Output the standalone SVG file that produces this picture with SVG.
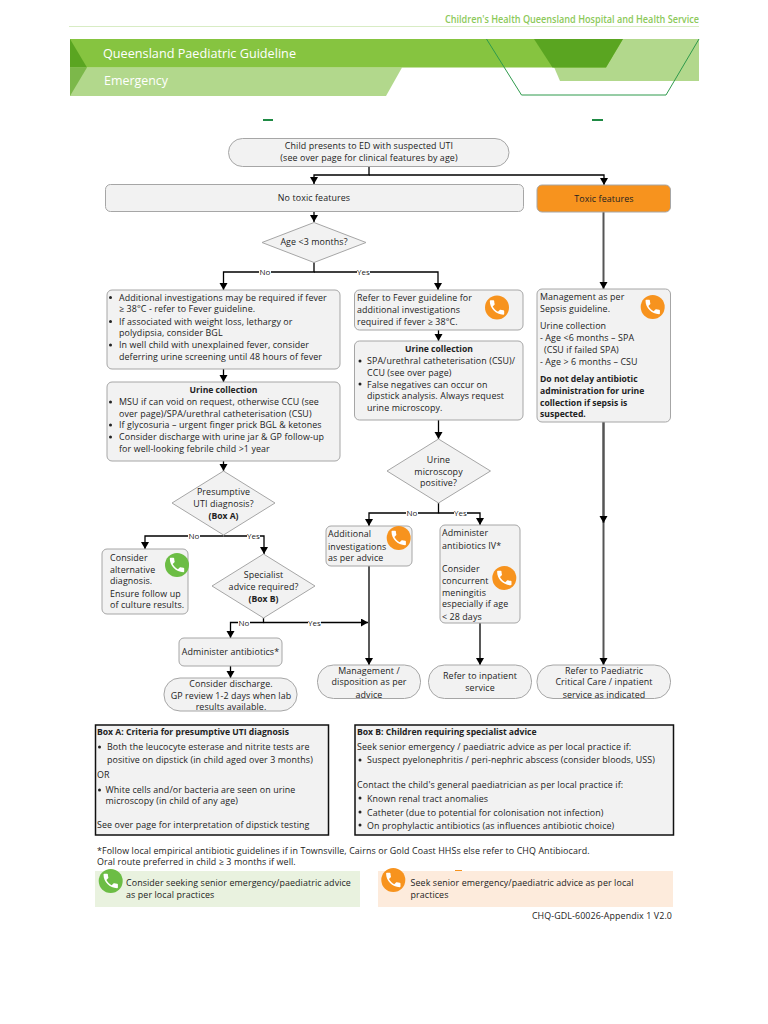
<svg xmlns="http://www.w3.org/2000/svg" width="768" height="1024" viewBox="0 0 768 1024">
<style>
text{font-family:"Open Sans","Noto Sans","Liberation Sans",sans-serif;font-size:8.9px;letter-spacing:.1px;fill:#222}
.c{text-anchor:middle}
.b{font-weight:700;font-size:8.6px;letter-spacing:0}
.n{fill:#f2f2f2;stroke:#a6a6a6;stroke-width:1}
.k{fill:#f2f2f2;stroke:#111;stroke-width:1.5}
.l{fill:none;stroke:#000;stroke-width:1.3}
.g{fill:none;stroke:#555;stroke-width:2}
.lb{fill:#fff}
.s{font-size:8px;letter-spacing:0}
.d{fill:#222}
</style>
<defs>
<marker id="a" markerUnits="userSpaceOnUse" markerWidth="9" markerHeight="9" refX="7" refY="4" orient="auto"><path d="M0 0L7 4L0 8z" fill="#000"/></marker>
<g id="ph"><path fill="#fff" d="M6.62 10.79c1.44 2.83 3.76 5.14 6.59 6.59l2.2-2.2c.27-.27.67-.36 1.02-.24 1.12.37 2.33.57 3.57.57.55 0 1 .45 1 1V20c0 .55-.45 1-1 1-9.39 0-17-7.61-17-17 0-.55.45-1 1-1h3.5c.55 0 1 .45 1 1 0 1.25.2 2.45.57 3.57.11.35.03.74-.25 1.02l-2.2 2.2z" transform="translate(-9.6 -9.6) scale(.8)"/></g>
<g id="po"><circle r="12" fill="#f7931e"/><use href="#ph"/></g>
<g id="pg"><circle r="12" fill="#6cbd45"/><use href="#ph"/></g>
</defs>

<g id="header">
<text x="699" y="23" text-anchor="end" textLength="254" lengthAdjust="spacingAndGlyphs" style="font-size:10px;letter-spacing:0;fill:#8cc95a;font-weight:600">Children's Health Queensland Hospital and Health Service</text>
<path d="M69 26.500H699" stroke="#d8ecc4" stroke-width="1" fill="none"/>
<path d="M623 39H699V81H560L542 39z" fill="#b2d88c"/>
<path d="M70 67.500H402L386 96H70z" fill="#b2d88c"/>
<path d="M70 39H623L606 67.500H70z" fill="#86c440"/>
<path d="M534 39H623L606 67.500H552.500z" fill="#5aa521"/>
<path d="M70 39L87 67.500H70z" fill="#5aa521"/>
<path d="M70 67.500H87L70 96z" fill="#7cb84a"/>
<path d="M486.500 39L521.500 95H666L699 39" fill="none" stroke="#2f9a4c" stroke-width="1"/>
<text x="103" y="58" textLength="193" lengthAdjust="spacingAndGlyphs" style="font-size:13px;letter-spacing:0;fill:#fff">Queensland Paediatric Guideline</text>
<text x="104" y="85" textLength="64" lengthAdjust="spacingAndGlyphs" style="font-size:13px;letter-spacing:0;fill:#fff">Emergency</text>
<path d="M263 120H273M592 120H603" stroke="#1f8a44" stroke-width="2" fill="none"/>
</g>

<g id="connectors">
<path class="l" d="M369 166.500V175H314V184" marker-end="url(#a)"/>
<path class="l" d="M369 175H604V185" marker-end="url(#a)"/>
<path class="l" d="M314 211V222" marker-end="url(#a)"/>
<path class="l" d="M314 262V272H223.500V290" marker-end="url(#a)"/>
<path class="l" d="M314 272H438V290" marker-end="url(#a)"/>
<path class="l" d="M223.500 369V382" marker-end="url(#a)"/>
<path class="l" d="M223.500 461V471" marker-end="url(#a)"/>
<path class="l" d="M438.500 330V341" marker-end="url(#a)"/>
<path class="l" d="M438.500 420V439" marker-end="url(#a)"/>
<path class="g" d="M603.500 212V289" marker-end="url(#a)"/>
<path class="g" d="M603.500 422V665" marker-end="url(#a)"/>
<path class="g" d="M603.500 422V523" marker-end="url(#a)"/>
<path class="l" d="M223.500 536H145V549" marker-end="url(#a)"/>
<path class="l" d="M223.500 536H264V554" marker-end="url(#a)"/>
<path class="l" d="M263.500 618V622.500H230.500V638" marker-end="url(#a)"/>
<path class="l" d="M263.500 622.500H368" marker-end="url(#a)"/>
<path class="l" d="M230.500 666V678" marker-end="url(#a)"/>
<path class="l" d="M438.500 503V513H369V526" marker-end="url(#a)"/>
<path class="l" d="M438.500 513H480V525" marker-end="url(#a)"/>
<path class="l" d="M369 566V665" marker-end="url(#a)"/>
<path class="l" d="M480 623V665" marker-end="url(#a)"/>
<g>
<rect class="lb" x="259" y="268" width="12" height="8"/><text class="c s" x="265" y="275">No</text>
<rect class="lb" x="357" y="268" width="13" height="8"/><text class="c s" x="363.500" y="275">Yes</text>
<rect class="lb" x="188" y="532" width="12" height="8"/><text class="c s" x="194" y="539">No</text>
<rect class="lb" x="247" y="532" width="13" height="8"/><text class="c s" x="253.500" y="539">Yes</text>
<rect class="lb" x="238" y="618.500" width="12" height="8"/><text class="c s" x="244" y="625.500">No</text>
<rect class="lb" x="308" y="618.500" width="13" height="8"/><text class="c s" x="314.500" y="625.500">Yes</text>
<rect class="lb" x="406" y="509" width="12" height="8"/><text class="c s" x="412" y="516">No</text>
<rect class="lb" x="454" y="509" width="13" height="8"/><text class="c s" x="460.500" y="516">Yes</text>
</g>
</g>

<g id="start"><rect class="n" x="228.500" y="138.500" width="280.500" height="28" rx="14"/>
<text class="c" x="369" y="149">Child presents to ED with suspected UTI</text>
<text class="c" x="369" y="161">(see over page for clinical features by age)</text></g>

<g id="no-toxic"><rect class="n" x="105.500" y="184.500" width="418" height="27" rx="5"/>
<text class="c" x="314" y="201">No toxic features</text></g>

<g id="toxic"><rect x="537" y="185" width="133.500" height="27" rx="5" fill="#f7931e" stroke="#a6a6a6"/>
<text class="c" x="604" y="202">Toxic features</text></g>

<g id="age"><path class="n" d="M314 222.500L366 242.500L314 262.500L262 242.500z"/>
<text class="c" x="314" y="245">Age &lt;3 months?</text></g>

<g id="box-additional"><rect class="n" x="107" y="290" width="233" height="79" rx="5"/>
<circle class="d" cx="110.500" cy="297.500" r="1.500"/><circle class="d" cx="110.500" cy="321.500" r="1.500"/><circle class="d" cx="110.500" cy="345" r="1.500"/>
<text x="119" y="300.500">Additional investigations may be required if fever</text>
<text x="119" y="312">≥ 38°C - refer to Fever guideline.</text>
<text x="119" y="324.500">If associated with weight loss, lethargy or</text>
<text x="119" y="336">polydipsia, consider BGL</text>
<text x="119" y="348">In well child with unexplained fever, consider</text>
<text x="119" y="360">deferring urine screening until 48 hours of fever</text></g>

<g id="box-urine-left"><rect class="n" x="107" y="382" width="233" height="79" rx="5"/>
<circle class="d" cx="110.500" cy="402" r="1.500"/><circle class="d" cx="110.500" cy="425" r="1.500"/><circle class="d" cx="110.500" cy="437" r="1.500"/>
<text class="c b" x="223.500" y="393">Urine collection</text>
<text x="119" y="405">MSU if can void on request, otherwise CCU (see</text>
<text x="119" y="416.500">over page)/SPA/urethral catheterisation (CSU)</text>
<text x="119" y="428">If glycosuria – urgent finger prick BGL &amp; ketones</text>
<text x="119" y="440">Consider discharge with urine jar &amp; GP follow-up</text>
<text x="119" y="452">for well-looking febrile child &gt;1 year</text></g>

<g id="box-refer"><rect class="n" x="354.500" y="290" width="168.500" height="40" rx="5"/>
<text x="357" y="301">Refer to Fever guideline for</text>
<text x="357" y="312.500">additional investigations</text>
<text x="357" y="325">required if fever ≥ 38°C.</text>
<use href="#po" x="497" y="307.500"/></g>

<g id="box-urine-mid"><rect class="n" x="354.500" y="341" width="168.500" height="79" rx="5"/>
<circle class="d" cx="360" cy="361" r="1.500"/><circle class="d" cx="360" cy="384" r="1.500"/>
<text class="c b" x="439" y="352">Urine collection</text>
<text x="367" y="364">SPA/urethral catheterisation (CSU)/</text>
<text x="367" y="375.500">CCU (see over page)</text>
<text x="367" y="387.500">False negatives can occur on</text>
<text x="367" y="399">dipstick analysis. Always request</text>
<text x="367" y="410.500">urine microscopy.</text></g>

<g id="box-sepsis"><rect class="n" x="537" y="289" width="133.500" height="133" rx="5"/>
<text x="540" y="300">Management as per</text>
<text x="540" y="311.500">Sepsis guideline.</text>
<text x="540" y="329">Urine collection</text>
<text x="540" y="341">- Age &lt;6 months – SPA</text>
<text x="544" y="353">(CSU if failed SPA)</text>
<text x="540" y="364.500">- Age &gt; 6 months – CSU</text>
<text class="b" x="540" y="382">Do not delay antibiotic</text>
<text class="b" x="540" y="394">administration for urine</text>
<text class="b" x="540" y="405.500">collection if sepsis is</text>
<text class="b" x="540" y="417">suspected.</text>
<use href="#po" x="652.700" y="307"/></g>

<g id="microscopy"><path class="n" d="M438.500 439L490.500 471L438.500 503L387 471z"/>
<text class="c" x="438.500" y="463">Urine</text>
<text class="c" x="438.500" y="474.500">microscopy</text>
<text class="c" x="438.500" y="485.500">positive?</text></g>

<g id="presumptive"><path class="n" d="M223.500 471L275 503L223.500 535L172 503z"/>
<text class="c" x="223.500" y="495">Presumptive</text>
<text class="c" x="223.500" y="506.500">UTI diagnosis?</text>
<text class="c b" x="223.500" y="518.500">(Box A)</text></g>

<g id="alt"><rect class="n" x="102" y="549" width="86" height="65" rx="5"/>
<text x="110" y="561">Consider</text>
<text x="110" y="572.500">alternative</text>
<text x="110" y="584">diagnosis.</text>
<text x="110" y="596.500">Ensure follow up</text>
<text x="110" y="608">of culture results.</text>
<use href="#pg" x="177" y="565"/></g>

<g id="specialist"><path class="n" d="M263.500 554L315 586L263.500 618L212 586z"/>
<text class="c" x="263.500" y="578">Specialist</text>
<text class="c" x="263.500" y="589.500">advice required?</text>
<text class="c b" x="263.500" y="602">(Box B)</text></g>

<g id="administer"><rect class="n" x="179" y="638" width="103" height="28" rx="5"/>
<text class="c" x="230.500" y="655">Administer antibiotics*</text></g>

<g id="discharge"><rect class="n" x="164" y="678" width="133" height="33" rx="16"/>
<text class="c" x="231" y="686.500">Consider discharge.</text>
<text class="c" x="231" y="698.500">GP review 1-2 days when lab</text>
<text class="c" x="231" y="710">results available.</text></g>

<g id="additional"><rect class="n" x="326" y="526" width="86" height="40" rx="5"/>
<text x="328" y="537">Additional</text>
<text x="328" y="549.500">investigations</text>
<text x="328" y="561">as per advice</text>
<use href="#po" x="398.700" y="538"/></g>

<g id="iv"><rect class="n" x="440" y="525" width="80" height="98" rx="5"/>
<text x="442" y="536">Administer</text>
<text x="442" y="548.500">antibiotics IV*</text>
<text x="442" y="571.500">Consider</text>
<text x="442" y="584">concurrent</text>
<text x="442" y="595.500">meningitis</text>
<text x="442" y="607">especially if age</text>
<text x="442" y="619.500">&lt; 28 days</text>
<use href="#po" x="504.300" y="578"/></g>

<g id="management"><rect class="n" x="317.500" y="665" width="103" height="33.500" rx="16"/>
<text class="c" x="369" y="673.500">Management /</text>
<text class="c" x="369" y="685">disposition as per</text>
<text class="c" x="369" y="697.500">advice</text></g>

<g id="inpatient"><rect class="n" x="428.500" y="665" width="103" height="33.500" rx="16"/>
<text class="c" x="480" y="679">Refer to inpatient</text>
<text class="c" x="480" y="690.500">service</text></g>

<g id="critical"><rect class="n" x="537" y="665" width="133.500" height="33.500" rx="16"/>
<text class="c" x="604" y="673.500">Refer to Paediatric</text>
<text class="c" x="604" y="685">Critical Care / inpatient</text>
<text class="c" x="604" y="697.500">service as indicated</text></g>

<g id="box-a"><rect class="k" x="95.500" y="725" width="233" height="110"/>
<circle class="d" cx="99.500" cy="747" r="1.500"/><circle class="d" cx="99.500" cy="790" r="1.500"/>
<text class="b" x="97" y="735">Box A: Criteria for presumptive UTI diagnosis</text>
<text x="107" y="750">Both the leucocyte esterase and nitrite tests are</text>
<text x="107" y="762.500">positive on dipstick (in child aged over 3 months)</text>
<text x="97" y="778">OR</text>
<text x="105.500" y="793">White cells and/or bacteria are seen on urine</text>
<text x="105.500" y="804">microscopy (in child of any age)</text>
<text x="97" y="828">See over page for interpretation of dipstick testing</text></g>

<g id="box-b"><rect class="k" x="355" y="725" width="318.500" height="110"/>
<circle class="d" cx="360" cy="760" r="1.500"/><circle class="d" cx="360" cy="798" r="1.500"/><circle class="d" cx="360" cy="812" r="1.500"/><circle class="d" cx="360" cy="825" r="1.500"/>
<text class="b" x="357" y="735">Box B: Children requiring specialist advice</text>
<text x="357" y="750">Seek senior emergency / paediatric advice as per local practice if:</text>
<text x="367" y="763">Suspect pyelonephritis / peri-nephric abscess (consider bloods, USS)</text>
<text x="357" y="788">Contact the child's general paediatrician as per local practice if:</text>
<text x="367" y="802">Known renal tract anomalies</text>
<text x="367" y="816">Catheter (due to potential for colonisation not infection)</text>
<text x="367" y="829">On prophylactic antibiotics (as influences antibiotic choice)</text></g>

<g id="footnote">
<text x="97" y="854">*Follow local empirical antibiotic guidelines if in Townsville, Cairns or Gold Coast HHSs else refer to CHQ Antibiocard.</text>
<text x="97" y="865">Oral route preferred in child ≥ 3 months if well.</text></g>

<g id="legend-green"><rect x="95" y="871" width="265" height="36" fill="#e9f2df"/>
<use href="#pg" x="110.700" y="881"/>
<text x="126" y="886">Consider seeking senior emergency/paediatric advice</text>
<text x="126" y="898">as per local practices</text></g>

<g id="legend-orange"><path d="M455 870.500H462" stroke="#f7931e" stroke-width="1" fill="none"/><rect x="378" y="871" width="295" height="36" fill="#fdebdc"/>
<use href="#po" x="393.300" y="880"/>
<text x="410.500" y="886">Seek senior emergency/paediatric advice as per local</text>
<text x="410.500" y="898">practices</text></g>

<text x="672" y="919" text-anchor="end">CHQ-GDL-60026-Appendix 1 V2.0</text>
</svg>
